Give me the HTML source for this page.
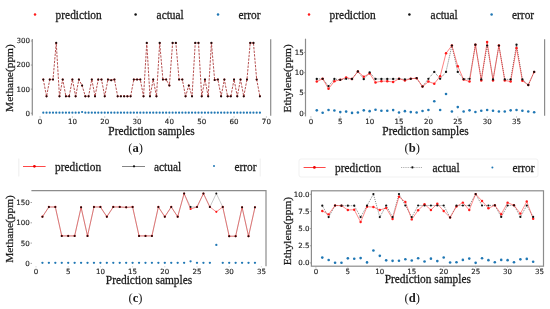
<!DOCTYPE html>
<html><head><meta charset="utf-8"><title>Prediction results</title>
<style>
html,body{margin:0;padding:0;background:#fff;}
body{width:550px;height:309px;overflow:hidden;}
svg{display:block;filter:blur(0.3px);}
</style></head>
<body>
<svg width="550" height="309" viewBox="0 0 550 309">
<rect x="0" y="0" width="550" height="309" fill="#fff"/>
<line x1="32.3" y1="38.9" x2="32.3" y2="115.6" stroke="#8c8c8c" stroke-width="1.2"/>
<line x1="270.7" y1="39.2" x2="270.7" y2="115.7" stroke="#8c8c8c" stroke-width="1.2"/>
<line x1="30.8" y1="113.2" x2="32.3" y2="113.2" stroke="#8c8c8c" stroke-width="0.8"/>
<line x1="30.8" y1="89.13" x2="32.3" y2="89.13" stroke="#8c8c8c" stroke-width="0.8"/>
<line x1="30.8" y1="65.06" x2="32.3" y2="65.06" stroke="#8c8c8c" stroke-width="0.8"/>
<line x1="30.8" y1="40.99" x2="32.3" y2="40.99" stroke="#8c8c8c" stroke-width="0.8"/>
<text x="0" y="0" transform="translate(30,115.6) scale(1,1.0)" font-family="'DejaVu Sans', 'Liberation Sans', sans-serif" font-size="7.1" text-anchor="end" fill="#262626" stroke="#262626" stroke-width="0.15">0</text>
<text x="0" y="0" transform="translate(30,91.53) scale(1,1.0)" font-family="'DejaVu Sans', 'Liberation Sans', sans-serif" font-size="7.1" text-anchor="end" fill="#262626" stroke="#262626" stroke-width="0.15">100</text>
<text x="0" y="0" transform="translate(30,67.46) scale(1,1.0)" font-family="'DejaVu Sans', 'Liberation Sans', sans-serif" font-size="7.1" text-anchor="end" fill="#262626" stroke="#262626" stroke-width="0.15">200</text>
<text x="0" y="0" transform="translate(30,43.39) scale(1,1.0)" font-family="'DejaVu Sans', 'Liberation Sans', sans-serif" font-size="7.1" text-anchor="end" fill="#262626" stroke="#262626" stroke-width="0.15">300</text>
<text x="0" y="0" transform="translate(40.07,123.8) scale(1,1.0)" font-family="'DejaVu Sans', 'Liberation Sans', sans-serif" font-size="7.1" text-anchor="middle" fill="#262626" stroke="#262626" stroke-width="0.15">0</text>
<text x="0" y="0" transform="translate(72.4,123.8) scale(1,1.0)" font-family="'DejaVu Sans', 'Liberation Sans', sans-serif" font-size="7.1" text-anchor="middle" fill="#262626" stroke="#262626" stroke-width="0.15">10</text>
<text x="0" y="0" transform="translate(104.73,123.8) scale(1,1.0)" font-family="'DejaVu Sans', 'Liberation Sans', sans-serif" font-size="7.1" text-anchor="middle" fill="#262626" stroke="#262626" stroke-width="0.15">20</text>
<text x="0" y="0" transform="translate(137.06,123.8) scale(1,1.0)" font-family="'DejaVu Sans', 'Liberation Sans', sans-serif" font-size="7.1" text-anchor="middle" fill="#262626" stroke="#262626" stroke-width="0.15">30</text>
<text x="0" y="0" transform="translate(169.39,123.8) scale(1,1.0)" font-family="'DejaVu Sans', 'Liberation Sans', sans-serif" font-size="7.1" text-anchor="middle" fill="#262626" stroke="#262626" stroke-width="0.15">40</text>
<text x="0" y="0" transform="translate(201.72,123.8) scale(1,1.0)" font-family="'DejaVu Sans', 'Liberation Sans', sans-serif" font-size="7.1" text-anchor="middle" fill="#262626" stroke="#262626" stroke-width="0.15">50</text>
<text x="0" y="0" transform="translate(234.05,123.8) scale(1,1.0)" font-family="'DejaVu Sans', 'Liberation Sans', sans-serif" font-size="7.1" text-anchor="middle" fill="#262626" stroke="#262626" stroke-width="0.15">60</text>
<text x="0" y="0" transform="translate(266.38,123.8) scale(1,1.0)" font-family="'DejaVu Sans', 'Liberation Sans', sans-serif" font-size="7.1" text-anchor="middle" fill="#262626" stroke="#262626" stroke-width="0.15">70</text>
<line x1="40.07" y1="116.2" x2="40.07" y2="117.8" stroke="#aaaaaa" stroke-width="0.7"/>
<line x1="72.4" y1="116.2" x2="72.4" y2="117.8" stroke="#aaaaaa" stroke-width="0.7"/>
<line x1="104.73" y1="116.2" x2="104.73" y2="117.8" stroke="#aaaaaa" stroke-width="0.7"/>
<line x1="137.06" y1="116.2" x2="137.06" y2="117.8" stroke="#aaaaaa" stroke-width="0.7"/>
<line x1="169.39" y1="116.2" x2="169.39" y2="117.8" stroke="#aaaaaa" stroke-width="0.7"/>
<line x1="201.72" y1="116.2" x2="201.72" y2="117.8" stroke="#aaaaaa" stroke-width="0.7"/>
<line x1="234.05" y1="116.2" x2="234.05" y2="117.8" stroke="#aaaaaa" stroke-width="0.7"/>
<line x1="266.38" y1="116.2" x2="266.38" y2="117.8" stroke="#aaaaaa" stroke-width="0.7"/>
<text x="0" y="0" transform="translate(13.2,78.1) rotate(-90)" font-family="'Liberation Serif', serif" font-size="11.4" text-anchor="middle" fill="#1a1a1a" stroke="#1a1a1a" stroke-width="0.25">Methane(ppm)</text>
<text x="0" y="0" transform="translate(151.5,134.5) scale(1,1.1)" font-family="'Liberation Serif', serif" font-size="11.4" text-anchor="middle" fill="#1a1a1a" stroke="#1a1a1a" stroke-width="0.25">Prediction samples</text>
<text x="0" y="0" transform="translate(135.6,152.2) scale(1,1.05)" font-family="'Liberation Serif', serif" font-size="12.6" text-anchor="middle" fill="#1a1a1a">(<tspan font-weight="bold">a</tspan>)</text>
<polyline points="43.3,79.5 46.54,96.35 49.77,79.5 53,79.5 56.23,42.92 59.47,96.35 62.7,79.5 65.93,96.35 69.17,96.35 72.4,79.5 75.63,96.35 78.87,79.5 82.1,85.52 85.33,96.35 88.56,96.35 91.8,79.5 95.03,96.35 98.26,79.5 101.5,79.5 104.73,96.35 107.96,79.5 111.2,80.22 114.43,79.5 117.66,96.35 120.9,96.35 124.13,96.35 127.36,96.35 130.59,96.35 133.83,79.5 137.06,79.5 140.29,79.5 143.53,96.35 146.76,42.92 149.99,96.35 153.22,79.5 156.46,96.35 159.69,42.92 162.92,79.5 166.16,79.5 169.39,85.52 172.62,42.92 175.86,42.92 179.09,79.5 182.32,79.5 185.56,96.35 188.79,85.52 192.02,96.35 195.25,42.92 198.49,42.92 201.72,96.35 204.95,79.5 208.19,96.35 211.42,42.92 214.65,79.98 217.88,79.5 221.12,96.35 224.35,79.5 227.58,96.35 230.82,96.35 234.05,79.5 237.28,96.35 240.52,79.5 243.75,96.35 246.98,79.5 250.22,42.92 253.45,42.92 256.68,79.5 259.91,96.35" fill="none" stroke="#b24848" stroke-width="0.95" stroke-linejoin="round" stroke-dasharray="2.4,1.2"/>
<circle cx="43.3" cy="79.5" r="1.0" fill="#ff1a1a"/>
<circle cx="46.54" cy="96.35" r="1.0" fill="#ff1a1a"/>
<circle cx="49.77" cy="79.5" r="1.0" fill="#ff1a1a"/>
<circle cx="53" cy="79.5" r="1.0" fill="#ff1a1a"/>
<circle cx="56.23" cy="42.92" r="1.0" fill="#ff1a1a"/>
<circle cx="59.47" cy="96.35" r="1.0" fill="#ff1a1a"/>
<circle cx="62.7" cy="79.5" r="1.0" fill="#ff1a1a"/>
<circle cx="65.93" cy="96.35" r="1.0" fill="#ff1a1a"/>
<circle cx="69.17" cy="96.35" r="1.0" fill="#ff1a1a"/>
<circle cx="72.4" cy="79.5" r="1.0" fill="#ff1a1a"/>
<circle cx="75.63" cy="96.35" r="1.0" fill="#ff1a1a"/>
<circle cx="78.87" cy="79.5" r="1.0" fill="#ff1a1a"/>
<circle cx="82.1" cy="85.52" r="1.0" fill="#ff1a1a"/>
<circle cx="85.33" cy="96.35" r="1.0" fill="#ff1a1a"/>
<circle cx="88.56" cy="96.35" r="1.0" fill="#ff1a1a"/>
<circle cx="91.8" cy="79.5" r="1.0" fill="#ff1a1a"/>
<circle cx="95.03" cy="96.35" r="1.0" fill="#ff1a1a"/>
<circle cx="98.26" cy="79.5" r="1.0" fill="#ff1a1a"/>
<circle cx="101.5" cy="79.5" r="1.0" fill="#ff1a1a"/>
<circle cx="104.73" cy="96.35" r="1.0" fill="#ff1a1a"/>
<circle cx="107.96" cy="79.5" r="1.0" fill="#ff1a1a"/>
<circle cx="111.2" cy="80.22" r="1.0" fill="#ff1a1a"/>
<circle cx="114.43" cy="79.5" r="1.0" fill="#ff1a1a"/>
<circle cx="117.66" cy="96.35" r="1.0" fill="#ff1a1a"/>
<circle cx="120.9" cy="96.35" r="1.0" fill="#ff1a1a"/>
<circle cx="124.13" cy="96.35" r="1.0" fill="#ff1a1a"/>
<circle cx="127.36" cy="96.35" r="1.0" fill="#ff1a1a"/>
<circle cx="130.59" cy="96.35" r="1.0" fill="#ff1a1a"/>
<circle cx="133.83" cy="79.5" r="1.0" fill="#ff1a1a"/>
<circle cx="137.06" cy="79.5" r="1.0" fill="#ff1a1a"/>
<circle cx="140.29" cy="79.5" r="1.0" fill="#ff1a1a"/>
<circle cx="143.53" cy="96.35" r="1.0" fill="#ff1a1a"/>
<circle cx="146.76" cy="42.92" r="1.0" fill="#ff1a1a"/>
<circle cx="149.99" cy="96.35" r="1.0" fill="#ff1a1a"/>
<circle cx="153.22" cy="79.5" r="1.0" fill="#ff1a1a"/>
<circle cx="156.46" cy="96.35" r="1.0" fill="#ff1a1a"/>
<circle cx="159.69" cy="42.92" r="1.0" fill="#ff1a1a"/>
<circle cx="162.92" cy="79.5" r="1.0" fill="#ff1a1a"/>
<circle cx="166.16" cy="79.5" r="1.0" fill="#ff1a1a"/>
<circle cx="169.39" cy="85.52" r="1.0" fill="#ff1a1a"/>
<circle cx="172.62" cy="42.92" r="1.0" fill="#ff1a1a"/>
<circle cx="175.86" cy="42.92" r="1.0" fill="#ff1a1a"/>
<circle cx="179.09" cy="79.5" r="1.0" fill="#ff1a1a"/>
<circle cx="182.32" cy="79.5" r="1.0" fill="#ff1a1a"/>
<circle cx="185.56" cy="96.35" r="1.0" fill="#ff1a1a"/>
<circle cx="188.79" cy="85.52" r="1.0" fill="#ff1a1a"/>
<circle cx="192.02" cy="96.35" r="1.0" fill="#ff1a1a"/>
<circle cx="195.25" cy="42.92" r="1.0" fill="#ff1a1a"/>
<circle cx="198.49" cy="42.92" r="1.0" fill="#ff1a1a"/>
<circle cx="201.72" cy="96.35" r="1.0" fill="#ff1a1a"/>
<circle cx="204.95" cy="79.5" r="1.0" fill="#ff1a1a"/>
<circle cx="208.19" cy="96.35" r="1.0" fill="#ff1a1a"/>
<circle cx="211.42" cy="42.92" r="1.0" fill="#ff1a1a"/>
<circle cx="214.65" cy="79.98" r="1.0" fill="#ff1a1a"/>
<circle cx="217.88" cy="79.5" r="1.0" fill="#ff1a1a"/>
<circle cx="221.12" cy="96.35" r="1.0" fill="#ff1a1a"/>
<circle cx="224.35" cy="79.5" r="1.0" fill="#ff1a1a"/>
<circle cx="227.58" cy="96.35" r="1.0" fill="#ff1a1a"/>
<circle cx="230.82" cy="96.35" r="1.0" fill="#ff1a1a"/>
<circle cx="234.05" cy="79.5" r="1.0" fill="#ff1a1a"/>
<circle cx="237.28" cy="96.35" r="1.0" fill="#ff1a1a"/>
<circle cx="240.52" cy="79.5" r="1.0" fill="#ff1a1a"/>
<circle cx="243.75" cy="96.35" r="1.0" fill="#ff1a1a"/>
<circle cx="246.98" cy="79.5" r="1.0" fill="#ff1a1a"/>
<circle cx="250.22" cy="42.92" r="1.0" fill="#ff1a1a"/>
<circle cx="253.45" cy="42.92" r="1.0" fill="#ff1a1a"/>
<circle cx="256.68" cy="79.5" r="1.0" fill="#ff1a1a"/>
<circle cx="259.91" cy="96.35" r="1.0" fill="#ff1a1a"/>
<circle cx="43.3" cy="79.5" r="1.05" fill="#111"/>
<circle cx="46.54" cy="96.35" r="1.05" fill="#111"/>
<circle cx="49.77" cy="79.5" r="1.05" fill="#111"/>
<circle cx="53" cy="79.5" r="1.05" fill="#111"/>
<circle cx="56.23" cy="42.92" r="1.05" fill="#111"/>
<circle cx="59.47" cy="96.35" r="1.05" fill="#111"/>
<circle cx="62.7" cy="79.5" r="1.05" fill="#111"/>
<circle cx="65.93" cy="96.35" r="1.05" fill="#111"/>
<circle cx="69.17" cy="96.35" r="1.05" fill="#111"/>
<circle cx="72.4" cy="79.5" r="1.05" fill="#111"/>
<circle cx="75.63" cy="96.35" r="1.05" fill="#111"/>
<circle cx="78.87" cy="79.5" r="1.05" fill="#111"/>
<circle cx="82.1" cy="85.52" r="1.05" fill="#111"/>
<circle cx="85.33" cy="96.35" r="1.05" fill="#111"/>
<circle cx="88.56" cy="96.35" r="1.05" fill="#111"/>
<circle cx="91.8" cy="79.5" r="1.05" fill="#111"/>
<circle cx="95.03" cy="96.35" r="1.05" fill="#111"/>
<circle cx="98.26" cy="79.5" r="1.05" fill="#111"/>
<circle cx="101.5" cy="79.5" r="1.05" fill="#111"/>
<circle cx="104.73" cy="96.35" r="1.05" fill="#111"/>
<circle cx="107.96" cy="79.5" r="1.05" fill="#111"/>
<circle cx="111.2" cy="80.22" r="1.05" fill="#111"/>
<circle cx="114.43" cy="79.5" r="1.05" fill="#111"/>
<circle cx="117.66" cy="96.35" r="1.05" fill="#111"/>
<circle cx="120.9" cy="96.35" r="1.05" fill="#111"/>
<circle cx="124.13" cy="96.35" r="1.05" fill="#111"/>
<circle cx="127.36" cy="96.35" r="1.05" fill="#111"/>
<circle cx="130.59" cy="96.35" r="1.05" fill="#111"/>
<circle cx="133.83" cy="79.5" r="1.05" fill="#111"/>
<circle cx="137.06" cy="79.5" r="1.05" fill="#111"/>
<circle cx="140.29" cy="79.5" r="1.05" fill="#111"/>
<circle cx="143.53" cy="96.35" r="1.05" fill="#111"/>
<circle cx="146.76" cy="42.92" r="1.05" fill="#111"/>
<circle cx="149.99" cy="96.35" r="1.05" fill="#111"/>
<circle cx="153.22" cy="79.5" r="1.05" fill="#111"/>
<circle cx="156.46" cy="96.35" r="1.05" fill="#111"/>
<circle cx="159.69" cy="42.92" r="1.05" fill="#111"/>
<circle cx="162.92" cy="79.5" r="1.05" fill="#111"/>
<circle cx="166.16" cy="79.5" r="1.05" fill="#111"/>
<circle cx="169.39" cy="85.52" r="1.05" fill="#111"/>
<circle cx="172.62" cy="42.92" r="1.05" fill="#111"/>
<circle cx="175.86" cy="42.92" r="1.05" fill="#111"/>
<circle cx="179.09" cy="79.5" r="1.05" fill="#111"/>
<circle cx="182.32" cy="79.5" r="1.05" fill="#111"/>
<circle cx="185.56" cy="96.35" r="1.05" fill="#111"/>
<circle cx="188.79" cy="85.52" r="1.05" fill="#111"/>
<circle cx="192.02" cy="96.35" r="1.05" fill="#111"/>
<circle cx="195.25" cy="42.92" r="1.05" fill="#111"/>
<circle cx="198.49" cy="42.92" r="1.05" fill="#111"/>
<circle cx="201.72" cy="96.35" r="1.05" fill="#111"/>
<circle cx="204.95" cy="79.5" r="1.05" fill="#111"/>
<circle cx="208.19" cy="96.35" r="1.05" fill="#111"/>
<circle cx="211.42" cy="42.92" r="1.05" fill="#111"/>
<circle cx="214.65" cy="79.98" r="1.05" fill="#111"/>
<circle cx="217.88" cy="79.5" r="1.05" fill="#111"/>
<circle cx="221.12" cy="96.35" r="1.05" fill="#111"/>
<circle cx="224.35" cy="79.5" r="1.05" fill="#111"/>
<circle cx="227.58" cy="96.35" r="1.05" fill="#111"/>
<circle cx="230.82" cy="96.35" r="1.05" fill="#111"/>
<circle cx="234.05" cy="79.5" r="1.05" fill="#111"/>
<circle cx="237.28" cy="96.35" r="1.05" fill="#111"/>
<circle cx="240.52" cy="79.5" r="1.05" fill="#111"/>
<circle cx="243.75" cy="96.35" r="1.05" fill="#111"/>
<circle cx="246.98" cy="79.5" r="1.05" fill="#111"/>
<circle cx="250.22" cy="42.92" r="1.05" fill="#111"/>
<circle cx="253.45" cy="42.92" r="1.05" fill="#111"/>
<circle cx="256.68" cy="79.5" r="1.05" fill="#111"/>
<circle cx="259.91" cy="96.35" r="1.05" fill="#111"/>
<circle cx="43.3" cy="112.72" r="1.1" fill="#1f77b4"/>
<circle cx="46.54" cy="112.72" r="1.1" fill="#1f77b4"/>
<circle cx="49.77" cy="112.72" r="1.1" fill="#1f77b4"/>
<circle cx="53" cy="112.72" r="1.1" fill="#1f77b4"/>
<circle cx="56.23" cy="112.72" r="1.1" fill="#1f77b4"/>
<circle cx="59.47" cy="112.72" r="1.1" fill="#1f77b4"/>
<circle cx="62.7" cy="112.72" r="1.1" fill="#1f77b4"/>
<circle cx="65.93" cy="112.72" r="1.1" fill="#1f77b4"/>
<circle cx="69.17" cy="112.72" r="1.1" fill="#1f77b4"/>
<circle cx="72.4" cy="112.72" r="1.1" fill="#1f77b4"/>
<circle cx="75.63" cy="112.72" r="1.1" fill="#1f77b4"/>
<circle cx="78.87" cy="112.72" r="1.1" fill="#1f77b4"/>
<circle cx="82.1" cy="112" r="1.1" fill="#1f77b4"/>
<circle cx="85.33" cy="112.72" r="1.1" fill="#1f77b4"/>
<circle cx="88.56" cy="112.72" r="1.1" fill="#1f77b4"/>
<circle cx="91.8" cy="112.72" r="1.1" fill="#1f77b4"/>
<circle cx="95.03" cy="112.72" r="1.1" fill="#1f77b4"/>
<circle cx="98.26" cy="112.72" r="1.1" fill="#1f77b4"/>
<circle cx="101.5" cy="112.72" r="1.1" fill="#1f77b4"/>
<circle cx="104.73" cy="112.72" r="1.1" fill="#1f77b4"/>
<circle cx="107.96" cy="112.72" r="1.1" fill="#1f77b4"/>
<circle cx="111.2" cy="112.72" r="1.1" fill="#1f77b4"/>
<circle cx="114.43" cy="112.72" r="1.1" fill="#1f77b4"/>
<circle cx="117.66" cy="112.72" r="1.1" fill="#1f77b4"/>
<circle cx="120.9" cy="112.72" r="1.1" fill="#1f77b4"/>
<circle cx="124.13" cy="112.72" r="1.1" fill="#1f77b4"/>
<circle cx="127.36" cy="112.72" r="1.1" fill="#1f77b4"/>
<circle cx="130.59" cy="112.72" r="1.1" fill="#1f77b4"/>
<circle cx="133.83" cy="112.72" r="1.1" fill="#1f77b4"/>
<circle cx="137.06" cy="112.72" r="1.1" fill="#1f77b4"/>
<circle cx="140.29" cy="112.72" r="1.1" fill="#1f77b4"/>
<circle cx="143.53" cy="112.72" r="1.1" fill="#1f77b4"/>
<circle cx="146.76" cy="112.72" r="1.1" fill="#1f77b4"/>
<circle cx="149.99" cy="112.72" r="1.1" fill="#1f77b4"/>
<circle cx="153.22" cy="112.72" r="1.1" fill="#1f77b4"/>
<circle cx="156.46" cy="112.72" r="1.1" fill="#1f77b4"/>
<circle cx="159.69" cy="112.72" r="1.1" fill="#1f77b4"/>
<circle cx="162.92" cy="112.72" r="1.1" fill="#1f77b4"/>
<circle cx="166.16" cy="112.72" r="1.1" fill="#1f77b4"/>
<circle cx="169.39" cy="112.72" r="1.1" fill="#1f77b4"/>
<circle cx="172.62" cy="112.72" r="1.1" fill="#1f77b4"/>
<circle cx="175.86" cy="112.72" r="1.1" fill="#1f77b4"/>
<circle cx="179.09" cy="112.72" r="1.1" fill="#1f77b4"/>
<circle cx="182.32" cy="112.72" r="1.1" fill="#1f77b4"/>
<circle cx="185.56" cy="112.72" r="1.1" fill="#1f77b4"/>
<circle cx="188.79" cy="112.72" r="1.1" fill="#1f77b4"/>
<circle cx="192.02" cy="112.72" r="1.1" fill="#1f77b4"/>
<circle cx="195.25" cy="112.72" r="1.1" fill="#1f77b4"/>
<circle cx="198.49" cy="112.72" r="1.1" fill="#1f77b4"/>
<circle cx="201.72" cy="112.72" r="1.1" fill="#1f77b4"/>
<circle cx="204.95" cy="112.72" r="1.1" fill="#1f77b4"/>
<circle cx="208.19" cy="112.72" r="1.1" fill="#1f77b4"/>
<circle cx="211.42" cy="112.72" r="1.1" fill="#1f77b4"/>
<circle cx="214.65" cy="112.72" r="1.1" fill="#1f77b4"/>
<circle cx="217.88" cy="112.72" r="1.1" fill="#1f77b4"/>
<circle cx="221.12" cy="112.72" r="1.1" fill="#1f77b4"/>
<circle cx="224.35" cy="112.72" r="1.1" fill="#1f77b4"/>
<circle cx="227.58" cy="112.72" r="1.1" fill="#1f77b4"/>
<circle cx="230.82" cy="112.72" r="1.1" fill="#1f77b4"/>
<circle cx="234.05" cy="112.72" r="1.1" fill="#1f77b4"/>
<circle cx="237.28" cy="112.72" r="1.1" fill="#1f77b4"/>
<circle cx="240.52" cy="112.72" r="1.1" fill="#1f77b4"/>
<circle cx="243.75" cy="112.72" r="1.1" fill="#1f77b4"/>
<circle cx="246.98" cy="112.72" r="1.1" fill="#1f77b4"/>
<circle cx="250.22" cy="112.72" r="1.1" fill="#1f77b4"/>
<circle cx="253.45" cy="112.72" r="1.1" fill="#1f77b4"/>
<circle cx="256.68" cy="112.72" r="1.1" fill="#1f77b4"/>
<circle cx="259.91" cy="112.72" r="1.1" fill="#1f77b4"/>
<circle cx="35" cy="14.4" r="1.25" fill="#ff1a1a"/>
<text x="0" y="0" transform="translate(55.6,18.5) scale(1,1.1)" font-family="'Liberation Serif', serif" font-size="11.4" text-anchor="start" fill="#1a1a1a" stroke="#1a1a1a" stroke-width="0.25">prediction</text>
<circle cx="135.6" cy="14.4" r="1.25" fill="#111"/>
<text x="0" y="0" transform="translate(156.6,18.5) scale(1,1.1)" font-family="'Liberation Serif', serif" font-size="11.4" text-anchor="start" fill="#1a1a1a" stroke="#1a1a1a" stroke-width="0.25">actual</text>
<circle cx="218" cy="14.4" r="1.25" fill="#1f77b4"/>
<text x="0" y="0" transform="translate(238.4,18.5) scale(1,1.1)" font-family="'Liberation Serif', serif" font-size="11.4" text-anchor="start" fill="#1a1a1a" stroke="#1a1a1a" stroke-width="0.25">error</text>
<line x1="305.5" y1="38.7" x2="305.5" y2="116.4" stroke="#8c8c8c" stroke-width="1.2"/>
<line x1="544.6" y1="39.2" x2="544.6" y2="115.7" stroke="#8c8c8c" stroke-width="1.2"/>
<line x1="304" y1="113.2" x2="305.5" y2="113.2" stroke="#8c8c8c" stroke-width="0.8"/>
<line x1="304" y1="92.95" x2="305.5" y2="92.95" stroke="#8c8c8c" stroke-width="0.8"/>
<line x1="304" y1="72.7" x2="305.5" y2="72.7" stroke="#8c8c8c" stroke-width="0.8"/>
<line x1="304" y1="52.45" x2="305.5" y2="52.45" stroke="#8c8c8c" stroke-width="0.8"/>
<text x="0" y="0" transform="translate(303.8,115.7) scale(1,1.0)" font-family="'DejaVu Sans', 'Liberation Sans', sans-serif" font-size="7.1" text-anchor="end" fill="#262626" stroke="#262626" stroke-width="0.15">0</text>
<text x="0" y="0" transform="translate(303.8,95.45) scale(1,1.0)" font-family="'DejaVu Sans', 'Liberation Sans', sans-serif" font-size="7.1" text-anchor="end" fill="#262626" stroke="#262626" stroke-width="0.15">5</text>
<text x="0" y="0" transform="translate(303.8,75.2) scale(1,1.0)" font-family="'DejaVu Sans', 'Liberation Sans', sans-serif" font-size="7.1" text-anchor="end" fill="#262626" stroke="#262626" stroke-width="0.15">10</text>
<text x="0" y="0" transform="translate(303.8,54.95) scale(1,1.0)" font-family="'DejaVu Sans', 'Liberation Sans', sans-serif" font-size="7.1" text-anchor="end" fill="#262626" stroke="#262626" stroke-width="0.15">15</text>
<text x="0" y="0" transform="translate(310.9,123.9) scale(1,1.0)" font-family="'DejaVu Sans', 'Liberation Sans', sans-serif" font-size="7.1" text-anchor="middle" fill="#262626" stroke="#262626" stroke-width="0.15">0</text>
<text x="0" y="0" transform="translate(340.27,123.9) scale(1,1.0)" font-family="'DejaVu Sans', 'Liberation Sans', sans-serif" font-size="7.1" text-anchor="middle" fill="#262626" stroke="#262626" stroke-width="0.15">5</text>
<text x="0" y="0" transform="translate(369.65,123.9) scale(1,1.0)" font-family="'DejaVu Sans', 'Liberation Sans', sans-serif" font-size="7.1" text-anchor="middle" fill="#262626" stroke="#262626" stroke-width="0.15">10</text>
<text x="0" y="0" transform="translate(399.02,123.9) scale(1,1.0)" font-family="'DejaVu Sans', 'Liberation Sans', sans-serif" font-size="7.1" text-anchor="middle" fill="#262626" stroke="#262626" stroke-width="0.15">15</text>
<text x="0" y="0" transform="translate(428.4,123.9) scale(1,1.0)" font-family="'DejaVu Sans', 'Liberation Sans', sans-serif" font-size="7.1" text-anchor="middle" fill="#262626" stroke="#262626" stroke-width="0.15">20</text>
<text x="0" y="0" transform="translate(457.77,123.9) scale(1,1.0)" font-family="'DejaVu Sans', 'Liberation Sans', sans-serif" font-size="7.1" text-anchor="middle" fill="#262626" stroke="#262626" stroke-width="0.15">25</text>
<text x="0" y="0" transform="translate(487.15,123.9) scale(1,1.0)" font-family="'DejaVu Sans', 'Liberation Sans', sans-serif" font-size="7.1" text-anchor="middle" fill="#262626" stroke="#262626" stroke-width="0.15">30</text>
<text x="0" y="0" transform="translate(516.52,123.9) scale(1,1.0)" font-family="'DejaVu Sans', 'Liberation Sans', sans-serif" font-size="7.1" text-anchor="middle" fill="#262626" stroke="#262626" stroke-width="0.15">35</text>
<line x1="310.9" y1="116.2" x2="310.9" y2="117.8" stroke="#aaaaaa" stroke-width="0.7"/>
<line x1="340.27" y1="116.2" x2="340.27" y2="117.8" stroke="#aaaaaa" stroke-width="0.7"/>
<line x1="369.65" y1="116.2" x2="369.65" y2="117.8" stroke="#aaaaaa" stroke-width="0.7"/>
<line x1="399.02" y1="116.2" x2="399.02" y2="117.8" stroke="#aaaaaa" stroke-width="0.7"/>
<line x1="428.4" y1="116.2" x2="428.4" y2="117.8" stroke="#aaaaaa" stroke-width="0.7"/>
<line x1="457.77" y1="116.2" x2="457.77" y2="117.8" stroke="#aaaaaa" stroke-width="0.7"/>
<line x1="487.15" y1="116.2" x2="487.15" y2="117.8" stroke="#aaaaaa" stroke-width="0.7"/>
<line x1="516.52" y1="116.2" x2="516.52" y2="117.8" stroke="#aaaaaa" stroke-width="0.7"/>
<text x="0" y="0" transform="translate(291.2,78.4) rotate(-90)" font-family="'Liberation Serif', serif" font-size="11.4" text-anchor="middle" fill="#1a1a1a" stroke="#1a1a1a" stroke-width="0.25">Ethylene(ppm)</text>
<text x="0" y="0" transform="translate(425.5,135) scale(1,1.1)" font-family="'Liberation Serif', serif" font-size="11.4" text-anchor="middle" fill="#1a1a1a" stroke="#1a1a1a" stroke-width="0.25">Prediction samples</text>
<text x="0" y="0" transform="translate(412.3,152.2) scale(1,1.05)" font-family="'Liberation Serif', serif" font-size="12.6" text-anchor="middle" fill="#1a1a1a">(<tspan font-weight="bold">b</tspan>)</text>
<polyline points="316.77,79.02 322.65,78.78 328.52,86.06 334.4,79.02 340.27,79.79 346.15,78.78 352.02,78.98 357.9,71.48 363.77,79.18 369.65,72.5 375.52,78.98 381.4,78.98 387.27,78.98 393.15,78.98 399.02,78.78 404.9,79.38 410.77,78.78 416.65,78.17 422.52,86.59 428.4,78.78 434.27,71.89 440.15,78.78 446.02,71.89 451.9,45.57 457.77,71.89 463.65,79.18 469.52,78.78 475.4,44.76 481.27,79.38 487.15,45.57 493.02,79.38 498.9,45.57 504.77,79.38 510.65,79.38 516.52,44.76 522.4,79.38 528.27,85.01 534.15,71.89" fill="none" stroke="#222" stroke-width="0.6" stroke-linejoin="round" stroke-dasharray="1,1"/>
<polyline points="316.77,81.61 322.65,78.78 328.52,88.7 334.4,81.2 340.27,79.79 346.15,77.56 352.02,78.98 357.9,71.48 363.77,76.75 369.65,73.51 375.52,82.42 381.4,81.2 387.27,81.2 393.15,82.02 399.02,78.78 404.9,80.4 410.77,78.78 416.65,78.17 422.52,86.59 428.4,81.61 434.27,83.64 440.15,76.34 446.02,53.26 451.9,45.57 457.77,66.22 463.65,79.59 469.52,81.61 475.4,44.76 481.27,80.4 487.15,41.92 493.02,80.4 498.9,45.57 504.77,80.4 510.65,81.61 516.52,48 522.4,80.8 528.27,85.01 534.15,71.89" fill="none" stroke="#ff1a1a" stroke-width="0.55" stroke-linejoin="round"/>
<circle cx="316.77" cy="81.61" r="1.25" fill="#ff1a1a"/>
<circle cx="322.65" cy="78.78" r="1.25" fill="#ff1a1a"/>
<circle cx="328.52" cy="88.7" r="1.25" fill="#ff1a1a"/>
<circle cx="334.4" cy="81.2" r="1.25" fill="#ff1a1a"/>
<circle cx="340.27" cy="79.79" r="1.25" fill="#ff1a1a"/>
<circle cx="346.15" cy="77.56" r="1.25" fill="#ff1a1a"/>
<circle cx="352.02" cy="78.98" r="1.25" fill="#ff1a1a"/>
<circle cx="357.9" cy="71.48" r="1.25" fill="#ff1a1a"/>
<circle cx="363.77" cy="76.75" r="1.25" fill="#ff1a1a"/>
<circle cx="369.65" cy="73.51" r="1.25" fill="#ff1a1a"/>
<circle cx="375.52" cy="82.42" r="1.25" fill="#ff1a1a"/>
<circle cx="381.4" cy="81.2" r="1.25" fill="#ff1a1a"/>
<circle cx="387.27" cy="81.2" r="1.25" fill="#ff1a1a"/>
<circle cx="393.15" cy="82.02" r="1.25" fill="#ff1a1a"/>
<circle cx="399.02" cy="78.78" r="1.25" fill="#ff1a1a"/>
<circle cx="404.9" cy="80.4" r="1.25" fill="#ff1a1a"/>
<circle cx="410.77" cy="78.78" r="1.25" fill="#ff1a1a"/>
<circle cx="416.65" cy="78.17" r="1.25" fill="#ff1a1a"/>
<circle cx="422.52" cy="86.59" r="1.25" fill="#ff1a1a"/>
<circle cx="428.4" cy="81.61" r="1.25" fill="#ff1a1a"/>
<circle cx="434.27" cy="83.64" r="1.25" fill="#ff1a1a"/>
<circle cx="440.15" cy="76.34" r="1.25" fill="#ff1a1a"/>
<circle cx="446.02" cy="53.26" r="1.25" fill="#ff1a1a"/>
<circle cx="451.9" cy="45.57" r="1.25" fill="#ff1a1a"/>
<circle cx="457.77" cy="66.22" r="1.25" fill="#ff1a1a"/>
<circle cx="463.65" cy="79.59" r="1.25" fill="#ff1a1a"/>
<circle cx="469.52" cy="81.61" r="1.25" fill="#ff1a1a"/>
<circle cx="475.4" cy="44.76" r="1.25" fill="#ff1a1a"/>
<circle cx="481.27" cy="80.4" r="1.25" fill="#ff1a1a"/>
<circle cx="487.15" cy="41.92" r="1.25" fill="#ff1a1a"/>
<circle cx="493.02" cy="80.4" r="1.25" fill="#ff1a1a"/>
<circle cx="498.9" cy="45.57" r="1.25" fill="#ff1a1a"/>
<circle cx="504.77" cy="80.4" r="1.25" fill="#ff1a1a"/>
<circle cx="510.65" cy="81.61" r="1.25" fill="#ff1a1a"/>
<circle cx="516.52" cy="48" r="1.25" fill="#ff1a1a"/>
<circle cx="522.4" cy="80.8" r="1.25" fill="#ff1a1a"/>
<circle cx="528.27" cy="85.01" r="1.25" fill="#ff1a1a"/>
<circle cx="534.15" cy="71.89" r="1.25" fill="#ff1a1a"/>
<circle cx="316.77" cy="79.02" r="1.15" fill="#111"/>
<circle cx="322.65" cy="78.78" r="1.15" fill="#111"/>
<circle cx="328.52" cy="86.06" r="1.15" fill="#111"/>
<circle cx="334.4" cy="79.02" r="1.15" fill="#111"/>
<circle cx="340.27" cy="79.79" r="1.15" fill="#111"/>
<circle cx="346.15" cy="78.78" r="1.15" fill="#111"/>
<circle cx="352.02" cy="78.98" r="1.15" fill="#111"/>
<circle cx="357.9" cy="71.48" r="1.15" fill="#111"/>
<circle cx="363.77" cy="79.18" r="1.15" fill="#111"/>
<circle cx="369.65" cy="72.5" r="1.15" fill="#111"/>
<circle cx="375.52" cy="78.98" r="1.15" fill="#111"/>
<circle cx="381.4" cy="78.98" r="1.15" fill="#111"/>
<circle cx="387.27" cy="78.98" r="1.15" fill="#111"/>
<circle cx="393.15" cy="78.98" r="1.15" fill="#111"/>
<circle cx="399.02" cy="78.78" r="1.15" fill="#111"/>
<circle cx="404.9" cy="79.38" r="1.15" fill="#111"/>
<circle cx="410.77" cy="78.78" r="1.15" fill="#111"/>
<circle cx="416.65" cy="78.17" r="1.15" fill="#111"/>
<circle cx="422.52" cy="86.59" r="1.15" fill="#111"/>
<circle cx="428.4" cy="78.78" r="1.15" fill="#111"/>
<circle cx="434.27" cy="71.89" r="1.15" fill="#111"/>
<circle cx="440.15" cy="78.78" r="1.15" fill="#111"/>
<circle cx="446.02" cy="71.89" r="1.15" fill="#111"/>
<circle cx="451.9" cy="45.57" r="1.15" fill="#111"/>
<circle cx="457.77" cy="71.89" r="1.15" fill="#111"/>
<circle cx="463.65" cy="79.18" r="1.15" fill="#111"/>
<circle cx="469.52" cy="78.78" r="1.15" fill="#111"/>
<circle cx="475.4" cy="44.76" r="1.15" fill="#111"/>
<circle cx="481.27" cy="79.38" r="1.15" fill="#111"/>
<circle cx="487.15" cy="45.57" r="1.15" fill="#111"/>
<circle cx="493.02" cy="79.38" r="1.15" fill="#111"/>
<circle cx="498.9" cy="45.57" r="1.15" fill="#111"/>
<circle cx="504.77" cy="79.38" r="1.15" fill="#111"/>
<circle cx="510.65" cy="79.38" r="1.15" fill="#111"/>
<circle cx="516.52" cy="44.76" r="1.15" fill="#111"/>
<circle cx="522.4" cy="79.38" r="1.15" fill="#111"/>
<circle cx="528.27" cy="85.01" r="1.15" fill="#111"/>
<circle cx="534.15" cy="71.89" r="1.15" fill="#111"/>
<circle cx="316.77" cy="110.37" r="1.3" fill="#1f77b4"/>
<circle cx="322.65" cy="112.71" r="1.3" fill="#1f77b4"/>
<circle cx="328.52" cy="109.96" r="1.3" fill="#1f77b4"/>
<circle cx="334.4" cy="110.53" r="1.3" fill="#1f77b4"/>
<circle cx="340.27" cy="112.11" r="1.3" fill="#1f77b4"/>
<circle cx="346.15" cy="111.58" r="1.3" fill="#1f77b4"/>
<circle cx="352.02" cy="112.92" r="1.3" fill="#1f77b4"/>
<circle cx="357.9" cy="112.51" r="1.3" fill="#1f77b4"/>
<circle cx="363.77" cy="110.37" r="1.3" fill="#1f77b4"/>
<circle cx="369.65" cy="111.17" r="1.3" fill="#1f77b4"/>
<circle cx="375.52" cy="109.72" r="1.3" fill="#1f77b4"/>
<circle cx="381.4" cy="110.77" r="1.3" fill="#1f77b4"/>
<circle cx="387.27" cy="110.77" r="1.3" fill="#1f77b4"/>
<circle cx="393.15" cy="110.12" r="1.3" fill="#1f77b4"/>
<circle cx="399.02" cy="112.51" r="1.3" fill="#1f77b4"/>
<circle cx="404.9" cy="111.17" r="1.3" fill="#1f77b4"/>
<circle cx="410.77" cy="112.11" r="1.3" fill="#1f77b4"/>
<circle cx="416.65" cy="112.51" r="1.3" fill="#1f77b4"/>
<circle cx="422.52" cy="111.01" r="1.3" fill="#1f77b4"/>
<circle cx="428.4" cy="109.96" r="1.3" fill="#1f77b4"/>
<circle cx="434.27" cy="101.21" r="1.3" fill="#1f77b4"/>
<circle cx="440.15" cy="109.96" r="1.3" fill="#1f77b4"/>
<circle cx="446.02" cy="94" r="1.3" fill="#1f77b4"/>
<circle cx="451.9" cy="111.5" r="1.3" fill="#1f77b4"/>
<circle cx="457.77" cy="107.12" r="1.3" fill="#1f77b4"/>
<circle cx="463.65" cy="111.5" r="1.3" fill="#1f77b4"/>
<circle cx="469.52" cy="110.37" r="1.3" fill="#1f77b4"/>
<circle cx="475.4" cy="111.98" r="1.3" fill="#1f77b4"/>
<circle cx="481.27" cy="110.77" r="1.3" fill="#1f77b4"/>
<circle cx="487.15" cy="109.96" r="1.3" fill="#1f77b4"/>
<circle cx="493.02" cy="110.77" r="1.3" fill="#1f77b4"/>
<circle cx="498.9" cy="111.5" r="1.3" fill="#1f77b4"/>
<circle cx="504.77" cy="111.5" r="1.3" fill="#1f77b4"/>
<circle cx="510.65" cy="110.37" r="1.3" fill="#1f77b4"/>
<circle cx="516.52" cy="109.96" r="1.3" fill="#1f77b4"/>
<circle cx="522.4" cy="110.77" r="1.3" fill="#1f77b4"/>
<circle cx="528.27" cy="111.5" r="1.3" fill="#1f77b4"/>
<circle cx="534.15" cy="112.31" r="1.3" fill="#1f77b4"/>
<circle cx="309" cy="14.4" r="1.25" fill="#ff1a1a"/>
<text x="0" y="0" transform="translate(329.6,18.5) scale(1,1.1)" font-family="'Liberation Serif', serif" font-size="11.4" text-anchor="start" fill="#1a1a1a" stroke="#1a1a1a" stroke-width="0.25">prediction</text>
<circle cx="409.4" cy="14.4" r="1.25" fill="#111"/>
<text x="0" y="0" transform="translate(430.6,18.5) scale(1,1.1)" font-family="'Liberation Serif', serif" font-size="11.4" text-anchor="start" fill="#1a1a1a" stroke="#1a1a1a" stroke-width="0.25">actual</text>
<circle cx="491.6" cy="14.4" r="1.25" fill="#1f77b4"/>
<text x="0" y="0" transform="translate(512,18.5) scale(1,1.1)" font-family="'Liberation Serif', serif" font-size="11.4" text-anchor="start" fill="#1a1a1a" stroke="#1a1a1a" stroke-width="0.25">error</text>
<line x1="31.4" y1="190.6" x2="266" y2="190.6" stroke="#8c8c8c" stroke-width="1.2"/>
<line x1="266" y1="190" x2="266" y2="266.2" stroke="#8c8c8c" stroke-width="1.2"/>
<line x1="30.6" y1="263.4" x2="32" y2="263.4" stroke="#8c8c8c" stroke-width="0.8"/>
<line x1="30.6" y1="243.1" x2="32" y2="243.1" stroke="#8c8c8c" stroke-width="0.8"/>
<line x1="30.6" y1="222.8" x2="32" y2="222.8" stroke="#8c8c8c" stroke-width="0.8"/>
<line x1="30.6" y1="202.5" x2="32" y2="202.5" stroke="#8c8c8c" stroke-width="0.8"/>
<text x="0" y="0" transform="translate(29.8,265.9) scale(1,1.0)" font-family="'DejaVu Sans', 'Liberation Sans', sans-serif" font-size="7.1" text-anchor="end" fill="#262626" stroke="#262626" stroke-width="0.15">0</text>
<text x="0" y="0" transform="translate(29.8,245.6) scale(1,1.0)" font-family="'DejaVu Sans', 'Liberation Sans', sans-serif" font-size="7.1" text-anchor="end" fill="#262626" stroke="#262626" stroke-width="0.15">50</text>
<text x="0" y="0" transform="translate(29.8,225.3) scale(1,1.0)" font-family="'DejaVu Sans', 'Liberation Sans', sans-serif" font-size="7.1" text-anchor="end" fill="#262626" stroke="#262626" stroke-width="0.15">100</text>
<text x="0" y="0" transform="translate(29.8,205) scale(1,1.0)" font-family="'DejaVu Sans', 'Liberation Sans', sans-serif" font-size="7.1" text-anchor="end" fill="#262626" stroke="#262626" stroke-width="0.15">150</text>
<text x="0" y="0" transform="translate(36,273.8) scale(1,1.0)" font-family="'DejaVu Sans', 'Liberation Sans', sans-serif" font-size="7.1" text-anchor="middle" fill="#262626" stroke="#262626" stroke-width="0.15">0</text>
<text x="0" y="0" transform="translate(68.2,273.8) scale(1,1.0)" font-family="'DejaVu Sans', 'Liberation Sans', sans-serif" font-size="7.1" text-anchor="middle" fill="#262626" stroke="#262626" stroke-width="0.15">5</text>
<text x="0" y="0" transform="translate(100.4,273.8) scale(1,1.0)" font-family="'DejaVu Sans', 'Liberation Sans', sans-serif" font-size="7.1" text-anchor="middle" fill="#262626" stroke="#262626" stroke-width="0.15">10</text>
<text x="0" y="0" transform="translate(132.6,273.8) scale(1,1.0)" font-family="'DejaVu Sans', 'Liberation Sans', sans-serif" font-size="7.1" text-anchor="middle" fill="#262626" stroke="#262626" stroke-width="0.15">15</text>
<text x="0" y="0" transform="translate(164.8,273.8) scale(1,1.0)" font-family="'DejaVu Sans', 'Liberation Sans', sans-serif" font-size="7.1" text-anchor="middle" fill="#262626" stroke="#262626" stroke-width="0.15">20</text>
<text x="0" y="0" transform="translate(197,273.8) scale(1,1.0)" font-family="'DejaVu Sans', 'Liberation Sans', sans-serif" font-size="7.1" text-anchor="middle" fill="#262626" stroke="#262626" stroke-width="0.15">25</text>
<text x="0" y="0" transform="translate(229.2,273.8) scale(1,1.0)" font-family="'DejaVu Sans', 'Liberation Sans', sans-serif" font-size="7.1" text-anchor="middle" fill="#262626" stroke="#262626" stroke-width="0.15">30</text>
<text x="0" y="0" transform="translate(261.4,273.8) scale(1,1.0)" font-family="'DejaVu Sans', 'Liberation Sans', sans-serif" font-size="7.1" text-anchor="middle" fill="#262626" stroke="#262626" stroke-width="0.15">35</text>
<line x1="36" y1="266" x2="36" y2="267.4" stroke="#c8c8c8" stroke-width="0.7"/>
<line x1="68.2" y1="266" x2="68.2" y2="267.4" stroke="#c8c8c8" stroke-width="0.7"/>
<line x1="100.4" y1="266" x2="100.4" y2="267.4" stroke="#c8c8c8" stroke-width="0.7"/>
<line x1="132.6" y1="266" x2="132.6" y2="267.4" stroke="#c8c8c8" stroke-width="0.7"/>
<line x1="164.8" y1="266" x2="164.8" y2="267.4" stroke="#c8c8c8" stroke-width="0.7"/>
<line x1="197" y1="266" x2="197" y2="267.4" stroke="#c8c8c8" stroke-width="0.7"/>
<line x1="229.2" y1="266" x2="229.2" y2="267.4" stroke="#c8c8c8" stroke-width="0.7"/>
<line x1="261.4" y1="266" x2="261.4" y2="267.4" stroke="#c8c8c8" stroke-width="0.7"/>
<text x="0" y="0" transform="translate(13.2,229) rotate(-90)" font-family="'Liberation Serif', serif" font-size="11.4" text-anchor="middle" fill="#1a1a1a" stroke="#1a1a1a" stroke-width="0.25">Methane(ppm)</text>
<text x="0" y="0" transform="translate(149,284.2) scale(1,1.1)" font-family="'Liberation Serif', serif" font-size="11.4" text-anchor="middle" fill="#1a1a1a" stroke="#1a1a1a" stroke-width="0.25">Prediction samples</text>
<text x="0" y="0" transform="translate(135.5,302.2) scale(1,1.05)" font-family="'Liberation Serif', serif" font-size="12.6" text-anchor="middle" fill="#1a1a1a">(<tspan font-weight="bold">c</tspan>)</text>
<polyline points="42.44,216.71 48.88,206.97 55.32,206.97 61.76,235.91 68.2,235.91 74.64,235.91 81.08,207.37 87.52,235.91 93.96,206.97 100.4,206.97 106.84,216.71 113.28,206.97 119.72,206.97 126.16,207.37 132.6,206.97 139.04,235.91 145.48,235.91 151.92,235.91 158.36,206.97 164.8,216.71 171.24,206.97 177.68,216.71 184.12,193.57 190.56,206.97 197,206.97 203.44,193.57 209.88,206.97 216.32,193.57 222.76,206.97 229.2,236.2 235.64,236.2 242.08,207.37 248.52,236.2 254.96,207.37" fill="none" stroke="#222" stroke-width="0.45" stroke-linejoin="round" stroke-opacity="0.55"/>
<polyline points="42.44,216.71 48.88,206.97 55.32,206.97 61.76,235.91 68.2,235.91 74.64,235.91 81.08,207.37 87.52,235.91 93.96,206.97 100.4,206.97 106.84,216.71 113.28,206.97 119.72,206.97 126.16,207.37 132.6,206.97 139.04,235.91 145.48,235.91 151.92,235.91 158.36,206.97 164.8,216.71 171.24,206.97 177.68,216.71 184.12,193.57 190.56,209 197,206.97 203.44,193.57 209.88,206.97 216.32,211.84 222.76,206.97 229.2,236.2 235.64,236.2 242.08,207.37 248.52,236.2 254.96,207.37" fill="none" stroke="#f03030" stroke-width="0.55" stroke-linejoin="round"/>
<circle cx="42.44" cy="216.71" r="1.1" fill="#ff1a1a"/>
<circle cx="48.88" cy="206.97" r="1.1" fill="#ff1a1a"/>
<circle cx="55.32" cy="206.97" r="1.1" fill="#ff1a1a"/>
<circle cx="61.76" cy="235.91" r="1.1" fill="#ff1a1a"/>
<circle cx="68.2" cy="235.91" r="1.1" fill="#ff1a1a"/>
<circle cx="74.64" cy="235.91" r="1.1" fill="#ff1a1a"/>
<circle cx="81.08" cy="207.37" r="1.1" fill="#ff1a1a"/>
<circle cx="87.52" cy="235.91" r="1.1" fill="#ff1a1a"/>
<circle cx="93.96" cy="206.97" r="1.1" fill="#ff1a1a"/>
<circle cx="100.4" cy="206.97" r="1.1" fill="#ff1a1a"/>
<circle cx="106.84" cy="216.71" r="1.1" fill="#ff1a1a"/>
<circle cx="113.28" cy="206.97" r="1.1" fill="#ff1a1a"/>
<circle cx="119.72" cy="206.97" r="1.1" fill="#ff1a1a"/>
<circle cx="126.16" cy="207.37" r="1.1" fill="#ff1a1a"/>
<circle cx="132.6" cy="206.97" r="1.1" fill="#ff1a1a"/>
<circle cx="139.04" cy="235.91" r="1.1" fill="#ff1a1a"/>
<circle cx="145.48" cy="235.91" r="1.1" fill="#ff1a1a"/>
<circle cx="151.92" cy="235.91" r="1.1" fill="#ff1a1a"/>
<circle cx="158.36" cy="206.97" r="1.1" fill="#ff1a1a"/>
<circle cx="164.8" cy="216.71" r="1.1" fill="#ff1a1a"/>
<circle cx="171.24" cy="206.97" r="1.1" fill="#ff1a1a"/>
<circle cx="177.68" cy="216.71" r="1.1" fill="#ff1a1a"/>
<circle cx="184.12" cy="193.57" r="1.1" fill="#ff1a1a"/>
<circle cx="190.56" cy="209" r="1.1" fill="#ff1a1a"/>
<circle cx="197" cy="206.97" r="1.1" fill="#ff1a1a"/>
<circle cx="203.44" cy="193.57" r="1.1" fill="#ff1a1a"/>
<circle cx="209.88" cy="206.97" r="1.1" fill="#ff1a1a"/>
<circle cx="216.32" cy="211.84" r="1.1" fill="#ff1a1a"/>
<circle cx="222.76" cy="206.97" r="1.1" fill="#ff1a1a"/>
<circle cx="229.2" cy="236.2" r="1.1" fill="#ff1a1a"/>
<circle cx="235.64" cy="236.2" r="1.1" fill="#ff1a1a"/>
<circle cx="242.08" cy="207.37" r="1.1" fill="#ff1a1a"/>
<circle cx="248.52" cy="236.2" r="1.1" fill="#ff1a1a"/>
<circle cx="254.96" cy="207.37" r="1.1" fill="#ff1a1a"/>
<circle cx="42.44" cy="216.71" r="1.0" fill="#111"/>
<circle cx="48.88" cy="206.97" r="1.0" fill="#111"/>
<circle cx="55.32" cy="206.97" r="1.0" fill="#111"/>
<circle cx="61.76" cy="235.91" r="1.0" fill="#111"/>
<circle cx="68.2" cy="235.91" r="1.0" fill="#111"/>
<circle cx="74.64" cy="235.91" r="1.0" fill="#111"/>
<circle cx="81.08" cy="207.37" r="1.0" fill="#111"/>
<circle cx="87.52" cy="235.91" r="1.0" fill="#111"/>
<circle cx="93.96" cy="206.97" r="1.0" fill="#111"/>
<circle cx="100.4" cy="206.97" r="1.0" fill="#111"/>
<circle cx="106.84" cy="216.71" r="1.0" fill="#111"/>
<circle cx="113.28" cy="206.97" r="1.0" fill="#111"/>
<circle cx="119.72" cy="206.97" r="1.0" fill="#111"/>
<circle cx="126.16" cy="207.37" r="1.0" fill="#111"/>
<circle cx="132.6" cy="206.97" r="1.0" fill="#111"/>
<circle cx="139.04" cy="235.91" r="1.0" fill="#111"/>
<circle cx="145.48" cy="235.91" r="1.0" fill="#111"/>
<circle cx="151.92" cy="235.91" r="1.0" fill="#111"/>
<circle cx="158.36" cy="206.97" r="1.0" fill="#111"/>
<circle cx="164.8" cy="216.71" r="1.0" fill="#111"/>
<circle cx="171.24" cy="206.97" r="1.0" fill="#111"/>
<circle cx="177.68" cy="216.71" r="1.0" fill="#111"/>
<circle cx="184.12" cy="193.57" r="1.0" fill="#111"/>
<circle cx="190.56" cy="206.97" r="1.0" fill="#111"/>
<circle cx="197" cy="206.97" r="1.0" fill="#111"/>
<circle cx="203.44" cy="193.57" r="1.0" fill="#111"/>
<circle cx="209.88" cy="206.97" r="1.0" fill="#111"/>
<circle cx="216.32" cy="193.57" r="1.0" fill="#111"/>
<circle cx="222.76" cy="206.97" r="1.0" fill="#111"/>
<circle cx="229.2" cy="236.2" r="1.0" fill="#111"/>
<circle cx="235.64" cy="236.2" r="1.0" fill="#111"/>
<circle cx="242.08" cy="207.37" r="1.0" fill="#111"/>
<circle cx="248.52" cy="236.2" r="1.0" fill="#111"/>
<circle cx="254.96" cy="207.37" r="1.0" fill="#111"/>
<circle cx="42.44" cy="262.79" r="1.15" fill="#1f77b4"/>
<circle cx="48.88" cy="262.79" r="1.15" fill="#1f77b4"/>
<circle cx="55.32" cy="262.79" r="1.15" fill="#1f77b4"/>
<circle cx="61.76" cy="262.79" r="1.15" fill="#1f77b4"/>
<circle cx="68.2" cy="262.79" r="1.15" fill="#1f77b4"/>
<circle cx="74.64" cy="262.79" r="1.15" fill="#1f77b4"/>
<circle cx="81.08" cy="262.79" r="1.15" fill="#1f77b4"/>
<circle cx="87.52" cy="262.79" r="1.15" fill="#1f77b4"/>
<circle cx="93.96" cy="262.79" r="1.15" fill="#1f77b4"/>
<circle cx="100.4" cy="262.79" r="1.15" fill="#1f77b4"/>
<circle cx="106.84" cy="262.79" r="1.15" fill="#1f77b4"/>
<circle cx="113.28" cy="262.79" r="1.15" fill="#1f77b4"/>
<circle cx="119.72" cy="262.79" r="1.15" fill="#1f77b4"/>
<circle cx="126.16" cy="262.79" r="1.15" fill="#1f77b4"/>
<circle cx="132.6" cy="262.79" r="1.15" fill="#1f77b4"/>
<circle cx="139.04" cy="262.79" r="1.15" fill="#1f77b4"/>
<circle cx="145.48" cy="262.79" r="1.15" fill="#1f77b4"/>
<circle cx="151.92" cy="262.79" r="1.15" fill="#1f77b4"/>
<circle cx="158.36" cy="262.79" r="1.15" fill="#1f77b4"/>
<circle cx="164.8" cy="262.79" r="1.15" fill="#1f77b4"/>
<circle cx="171.24" cy="262.79" r="1.15" fill="#1f77b4"/>
<circle cx="177.68" cy="262.79" r="1.15" fill="#1f77b4"/>
<circle cx="184.12" cy="262.79" r="1.15" fill="#1f77b4"/>
<circle cx="190.56" cy="261.37" r="1.15" fill="#1f77b4"/>
<circle cx="197" cy="262.79" r="1.15" fill="#1f77b4"/>
<circle cx="203.44" cy="262.79" r="1.15" fill="#1f77b4"/>
<circle cx="209.88" cy="262.79" r="1.15" fill="#1f77b4"/>
<circle cx="216.32" cy="244.89" r="1.15" fill="#1f77b4"/>
<circle cx="222.76" cy="262.79" r="1.15" fill="#1f77b4"/>
<circle cx="229.2" cy="262.79" r="1.15" fill="#1f77b4"/>
<circle cx="235.64" cy="262.79" r="1.15" fill="#1f77b4"/>
<circle cx="242.08" cy="262.79" r="1.15" fill="#1f77b4"/>
<circle cx="248.52" cy="262.79" r="1.15" fill="#1f77b4"/>
<circle cx="254.96" cy="262.79" r="1.15" fill="#1f77b4"/>
<line x1="18.8" y1="158.5" x2="18.8" y2="176.5" stroke="#e9e9e9" stroke-width="0.8"/>
<line x1="260.2" y1="158.5" x2="260.2" y2="176.5" stroke="#ececec" stroke-width="0.8"/>
<line x1="23" y1="166.5" x2="45.6" y2="166.5" stroke="#ff1a1a" stroke-width="0.8"/>
<circle cx="34.4" cy="166.3" r="1.35" fill="#ee0000"/>
<text x="0" y="0" transform="translate(55,170.8) scale(1,1.1)" font-family="'Liberation Serif', serif" font-size="11.4" text-anchor="start" fill="#1a1a1a" stroke="#1a1a1a" stroke-width="0.25">prediction</text>
<line x1="122" y1="166.5" x2="145" y2="166.5" stroke="#333" stroke-width="0.6"/>
<circle cx="134" cy="166.3" r="1.15" fill="#111"/>
<text x="0" y="0" transform="translate(154,170.8) scale(1,1.1)" font-family="'Liberation Serif', serif" font-size="11.4" text-anchor="start" fill="#1a1a1a" stroke="#1a1a1a" stroke-width="0.25">actual</text>
<circle cx="214" cy="166" r="1.0" fill="#1f77b4"/>
<text x="0" y="0" transform="translate(234.4,170.8) scale(1,1.1)" font-family="'Liberation Serif', serif" font-size="11.4" text-anchor="start" fill="#1a1a1a" stroke="#1a1a1a" stroke-width="0.25">error</text>
<rect x="311.4" y="190.8" width="232.1" height="75.4" fill="none" stroke="#8c8c8c" stroke-width="1.2"/>
<line x1="309.9" y1="262.9" x2="311.4" y2="262.9" stroke="#8c8c8c" stroke-width="0.8"/>
<line x1="309.9" y1="245.75" x2="311.4" y2="245.75" stroke="#8c8c8c" stroke-width="0.8"/>
<line x1="309.9" y1="228.6" x2="311.4" y2="228.6" stroke="#8c8c8c" stroke-width="0.8"/>
<line x1="309.9" y1="211.45" x2="311.4" y2="211.45" stroke="#8c8c8c" stroke-width="0.8"/>
<line x1="309.9" y1="194.3" x2="311.4" y2="194.3" stroke="#8c8c8c" stroke-width="0.8"/>
<text x="0" y="0" transform="translate(309.6,265.4) scale(1,1.0)" font-family="'DejaVu Sans', 'Liberation Sans', sans-serif" font-size="7.1" text-anchor="end" fill="#262626" stroke="#262626" stroke-width="0.15">0.0</text>
<text x="0" y="0" transform="translate(309.6,248.25) scale(1,1.0)" font-family="'DejaVu Sans', 'Liberation Sans', sans-serif" font-size="7.1" text-anchor="end" fill="#262626" stroke="#262626" stroke-width="0.15">2.5</text>
<text x="0" y="0" transform="translate(309.6,231.1) scale(1,1.0)" font-family="'DejaVu Sans', 'Liberation Sans', sans-serif" font-size="7.1" text-anchor="end" fill="#262626" stroke="#262626" stroke-width="0.15">5.0</text>
<text x="0" y="0" transform="translate(309.6,213.95) scale(1,1.0)" font-family="'DejaVu Sans', 'Liberation Sans', sans-serif" font-size="7.1" text-anchor="end" fill="#262626" stroke="#262626" stroke-width="0.15">7.5</text>
<text x="0" y="0" transform="translate(309.6,196.8) scale(1,1.0)" font-family="'DejaVu Sans', 'Liberation Sans', sans-serif" font-size="7.1" text-anchor="end" fill="#262626" stroke="#262626" stroke-width="0.15">10.0</text>
<text x="0" y="0" transform="translate(315.9,273.6) scale(1,1.0)" font-family="'DejaVu Sans', 'Liberation Sans', sans-serif" font-size="7.1" text-anchor="middle" fill="#262626" stroke="#262626" stroke-width="0.15">0</text>
<text x="0" y="0" transform="translate(347.85,273.6) scale(1,1.0)" font-family="'DejaVu Sans', 'Liberation Sans', sans-serif" font-size="7.1" text-anchor="middle" fill="#262626" stroke="#262626" stroke-width="0.15">5</text>
<text x="0" y="0" transform="translate(379.8,273.6) scale(1,1.0)" font-family="'DejaVu Sans', 'Liberation Sans', sans-serif" font-size="7.1" text-anchor="middle" fill="#262626" stroke="#262626" stroke-width="0.15">10</text>
<text x="0" y="0" transform="translate(411.75,273.6) scale(1,1.0)" font-family="'DejaVu Sans', 'Liberation Sans', sans-serif" font-size="7.1" text-anchor="middle" fill="#262626" stroke="#262626" stroke-width="0.15">15</text>
<text x="0" y="0" transform="translate(443.7,273.6) scale(1,1.0)" font-family="'DejaVu Sans', 'Liberation Sans', sans-serif" font-size="7.1" text-anchor="middle" fill="#262626" stroke="#262626" stroke-width="0.15">20</text>
<text x="0" y="0" transform="translate(475.65,273.6) scale(1,1.0)" font-family="'DejaVu Sans', 'Liberation Sans', sans-serif" font-size="7.1" text-anchor="middle" fill="#262626" stroke="#262626" stroke-width="0.15">25</text>
<text x="0" y="0" transform="translate(507.6,273.6) scale(1,1.0)" font-family="'DejaVu Sans', 'Liberation Sans', sans-serif" font-size="7.1" text-anchor="middle" fill="#262626" stroke="#262626" stroke-width="0.15">30</text>
<text x="0" y="0" transform="translate(539.55,273.6) scale(1,1.0)" font-family="'DejaVu Sans', 'Liberation Sans', sans-serif" font-size="7.1" text-anchor="middle" fill="#262626" stroke="#262626" stroke-width="0.15">35</text>
<line x1="315.9" y1="266.2" x2="315.9" y2="267.6" stroke="#999999" stroke-width="0.7"/>
<line x1="347.85" y1="266.2" x2="347.85" y2="267.6" stroke="#999999" stroke-width="0.7"/>
<line x1="379.8" y1="266.2" x2="379.8" y2="267.6" stroke="#999999" stroke-width="0.7"/>
<line x1="411.75" y1="266.2" x2="411.75" y2="267.6" stroke="#999999" stroke-width="0.7"/>
<line x1="443.7" y1="266.2" x2="443.7" y2="267.6" stroke="#999999" stroke-width="0.7"/>
<line x1="475.65" y1="266.2" x2="475.65" y2="267.6" stroke="#999999" stroke-width="0.7"/>
<line x1="507.6" y1="266.2" x2="507.6" y2="267.6" stroke="#999999" stroke-width="0.7"/>
<line x1="539.55" y1="266.2" x2="539.55" y2="267.6" stroke="#999999" stroke-width="0.7"/>
<text x="0" y="0" transform="translate(291.2,231) rotate(-90)" font-family="'Liberation Serif', serif" font-size="11.4" text-anchor="middle" fill="#1a1a1a" stroke="#1a1a1a" stroke-width="0.25">Ethylene(ppm)</text>
<text x="0" y="0" transform="translate(427.8,283.4) scale(1,1.1)" font-family="'Liberation Serif', serif" font-size="11.4" text-anchor="middle" fill="#1a1a1a" stroke="#1a1a1a" stroke-width="0.25">Prediction samples</text>
<text x="0" y="0" transform="translate(412.3,302.2) scale(1,1.05)" font-family="'Liberation Serif', serif" font-size="12.6" text-anchor="middle" fill="#1a1a1a">(<tspan font-weight="bold">d</tspan>)</text>
<polyline points="322.29,205.69 328.68,217.08 335.07,205.48 341.46,205.69 347.85,205.69 354.24,205.69 360.63,217.08 367.02,205.69 373.41,194.09 379.8,217.08 386.19,205.48 392.58,217.08 398.97,194.09 405.36,205.48 411.75,217.08 418.14,205.48 424.53,205.48 430.92,205.48 437.31,205.48 443.7,205.48 450.09,217.49 456.48,205.69 462.87,205.48 469.26,205.48 475.65,194.09 482.04,205.48 488.43,205.48 494.82,205.28 501.21,216.94 507.6,205.48 513.99,205.28 520.38,216.94 526.77,205.48 533.16,216.94" fill="none" stroke="#333" stroke-width="0.6" stroke-linejoin="round" stroke-dasharray="1,1"/>
<polyline points="322.29,210.97 328.68,214.33 335.07,205.48 341.46,205.69 347.85,210.01 354.24,209.73 360.63,222.01 367.02,206.79 373.41,206.99 379.8,210.01 386.19,208.02 392.58,219 398.97,196.77 405.36,201.98 411.75,219.41 418.14,210.28 424.53,204.18 430.92,210.01 437.31,203.77 443.7,210.97 450.09,217.49 456.48,206.51 462.87,202.6 469.26,210.01 475.65,194.09 482.04,201.02 488.43,208.23 494.82,205.28 501.21,214.19 507.6,202.67 513.99,205.28 520.38,213.58 526.77,201.57 533.16,218.72" fill="none" stroke="#ff1a1a" stroke-width="0.5" stroke-linejoin="round"/>
<circle cx="322.29" cy="210.97" r="1.2" fill="#ff1a1a"/>
<circle cx="328.68" cy="214.33" r="1.2" fill="#ff1a1a"/>
<circle cx="335.07" cy="205.48" r="1.2" fill="#ff1a1a"/>
<circle cx="341.46" cy="205.69" r="1.2" fill="#ff1a1a"/>
<circle cx="347.85" cy="210.01" r="1.2" fill="#ff1a1a"/>
<circle cx="354.24" cy="209.73" r="1.2" fill="#ff1a1a"/>
<circle cx="360.63" cy="222.01" r="1.2" fill="#ff1a1a"/>
<circle cx="367.02" cy="206.79" r="1.2" fill="#ff1a1a"/>
<circle cx="373.41" cy="206.99" r="1.2" fill="#ff1a1a"/>
<circle cx="379.8" cy="210.01" r="1.2" fill="#ff1a1a"/>
<circle cx="386.19" cy="208.02" r="1.2" fill="#ff1a1a"/>
<circle cx="392.58" cy="219" r="1.2" fill="#ff1a1a"/>
<circle cx="398.97" cy="196.77" r="1.2" fill="#ff1a1a"/>
<circle cx="405.36" cy="201.98" r="1.2" fill="#ff1a1a"/>
<circle cx="411.75" cy="219.41" r="1.2" fill="#ff1a1a"/>
<circle cx="418.14" cy="210.28" r="1.2" fill="#ff1a1a"/>
<circle cx="424.53" cy="204.18" r="1.2" fill="#ff1a1a"/>
<circle cx="430.92" cy="210.01" r="1.2" fill="#ff1a1a"/>
<circle cx="437.31" cy="203.77" r="1.2" fill="#ff1a1a"/>
<circle cx="443.7" cy="210.97" r="1.2" fill="#ff1a1a"/>
<circle cx="450.09" cy="217.49" r="1.2" fill="#ff1a1a"/>
<circle cx="456.48" cy="206.51" r="1.2" fill="#ff1a1a"/>
<circle cx="462.87" cy="202.6" r="1.2" fill="#ff1a1a"/>
<circle cx="469.26" cy="210.01" r="1.2" fill="#ff1a1a"/>
<circle cx="475.65" cy="194.09" r="1.2" fill="#ff1a1a"/>
<circle cx="482.04" cy="201.02" r="1.2" fill="#ff1a1a"/>
<circle cx="488.43" cy="208.23" r="1.2" fill="#ff1a1a"/>
<circle cx="494.82" cy="205.28" r="1.2" fill="#ff1a1a"/>
<circle cx="501.21" cy="214.19" r="1.2" fill="#ff1a1a"/>
<circle cx="507.6" cy="202.67" r="1.2" fill="#ff1a1a"/>
<circle cx="513.99" cy="205.28" r="1.2" fill="#ff1a1a"/>
<circle cx="520.38" cy="213.58" r="1.2" fill="#ff1a1a"/>
<circle cx="526.77" cy="201.57" r="1.2" fill="#ff1a1a"/>
<circle cx="533.16" cy="218.72" r="1.2" fill="#ff1a1a"/>
<circle cx="322.29" cy="205.69" r="1.1" fill="#111"/>
<circle cx="328.68" cy="217.08" r="1.1" fill="#111"/>
<circle cx="335.07" cy="205.48" r="1.1" fill="#111"/>
<circle cx="341.46" cy="205.69" r="1.1" fill="#111"/>
<circle cx="347.85" cy="205.69" r="1.1" fill="#111"/>
<circle cx="354.24" cy="205.69" r="1.1" fill="#111"/>
<circle cx="360.63" cy="217.08" r="1.1" fill="#111"/>
<circle cx="367.02" cy="205.69" r="1.1" fill="#111"/>
<circle cx="373.41" cy="194.09" r="1.1" fill="#111"/>
<circle cx="379.8" cy="217.08" r="1.1" fill="#111"/>
<circle cx="386.19" cy="205.48" r="1.1" fill="#111"/>
<circle cx="392.58" cy="217.08" r="1.1" fill="#111"/>
<circle cx="398.97" cy="194.09" r="1.1" fill="#111"/>
<circle cx="405.36" cy="205.48" r="1.1" fill="#111"/>
<circle cx="411.75" cy="217.08" r="1.1" fill="#111"/>
<circle cx="418.14" cy="205.48" r="1.1" fill="#111"/>
<circle cx="424.53" cy="205.48" r="1.1" fill="#111"/>
<circle cx="430.92" cy="205.48" r="1.1" fill="#111"/>
<circle cx="437.31" cy="205.48" r="1.1" fill="#111"/>
<circle cx="443.7" cy="205.48" r="1.1" fill="#111"/>
<circle cx="450.09" cy="217.49" r="1.1" fill="#111"/>
<circle cx="456.48" cy="205.69" r="1.1" fill="#111"/>
<circle cx="462.87" cy="205.48" r="1.1" fill="#111"/>
<circle cx="469.26" cy="205.48" r="1.1" fill="#111"/>
<circle cx="475.65" cy="194.09" r="1.1" fill="#111"/>
<circle cx="482.04" cy="205.48" r="1.1" fill="#111"/>
<circle cx="488.43" cy="205.48" r="1.1" fill="#111"/>
<circle cx="494.82" cy="205.28" r="1.1" fill="#111"/>
<circle cx="501.21" cy="216.94" r="1.1" fill="#111"/>
<circle cx="507.6" cy="205.48" r="1.1" fill="#111"/>
<circle cx="513.99" cy="205.28" r="1.1" fill="#111"/>
<circle cx="520.38" cy="216.94" r="1.1" fill="#111"/>
<circle cx="526.77" cy="205.48" r="1.1" fill="#111"/>
<circle cx="533.16" cy="216.94" r="1.1" fill="#111"/>
<circle cx="322.29" cy="257.62" r="1.3" fill="#1f77b4"/>
<circle cx="328.68" cy="260.02" r="1.3" fill="#1f77b4"/>
<circle cx="335.07" cy="262.69" r="1.3" fill="#1f77b4"/>
<circle cx="341.46" cy="262.69" r="1.3" fill="#1f77b4"/>
<circle cx="347.85" cy="258.37" r="1.3" fill="#1f77b4"/>
<circle cx="354.24" cy="258.78" r="1.3" fill="#1f77b4"/>
<circle cx="360.63" cy="258.1" r="1.3" fill="#1f77b4"/>
<circle cx="367.02" cy="262.42" r="1.3" fill="#1f77b4"/>
<circle cx="373.41" cy="250.55" r="1.3" fill="#1f77b4"/>
<circle cx="379.8" cy="255.83" r="1.3" fill="#1f77b4"/>
<circle cx="386.19" cy="260.36" r="1.3" fill="#1f77b4"/>
<circle cx="392.58" cy="260.84" r="1.3" fill="#1f77b4"/>
<circle cx="398.97" cy="260.7" r="1.3" fill="#1f77b4"/>
<circle cx="405.36" cy="259.2" r="1.3" fill="#1f77b4"/>
<circle cx="411.75" cy="260.43" r="1.3" fill="#1f77b4"/>
<circle cx="418.14" cy="258.24" r="1.3" fill="#1f77b4"/>
<circle cx="424.53" cy="261.53" r="1.3" fill="#1f77b4"/>
<circle cx="430.92" cy="258.65" r="1.3" fill="#1f77b4"/>
<circle cx="437.31" cy="261.12" r="1.3" fill="#1f77b4"/>
<circle cx="443.7" cy="257.48" r="1.3" fill="#1f77b4"/>
<circle cx="450.09" cy="262.49" r="1.3" fill="#1f77b4"/>
<circle cx="456.48" cy="262.28" r="1.3" fill="#1f77b4"/>
<circle cx="462.87" cy="259.88" r="1.3" fill="#1f77b4"/>
<circle cx="469.26" cy="258.58" r="1.3" fill="#1f77b4"/>
<circle cx="475.65" cy="262.83" r="1.3" fill="#1f77b4"/>
<circle cx="482.04" cy="258.24" r="1.3" fill="#1f77b4"/>
<circle cx="488.43" cy="260.16" r="1.3" fill="#1f77b4"/>
<circle cx="494.82" cy="262.28" r="1.3" fill="#1f77b4"/>
<circle cx="501.21" cy="259.88" r="1.3" fill="#1f77b4"/>
<circle cx="507.6" cy="260.16" r="1.3" fill="#1f77b4"/>
<circle cx="513.99" cy="262.28" r="1.3" fill="#1f77b4"/>
<circle cx="520.38" cy="259.33" r="1.3" fill="#1f77b4"/>
<circle cx="526.77" cy="258.92" r="1.3" fill="#1f77b4"/>
<circle cx="533.16" cy="261.8" r="1.3" fill="#1f77b4"/>
<rect x="299" y="159" width="239" height="18" rx="2" fill="none" stroke="#eeeeee" stroke-width="0.8"/>
<line x1="303.6" y1="167.5" x2="325.6" y2="167.5" stroke="#ff1a1a" stroke-width="0.8"/>
<circle cx="314.4" cy="167.4" r="1.35" fill="#ee0000"/>
<text x="0" y="0" transform="translate(335,171.6) scale(1,1.1)" font-family="'Liberation Serif', serif" font-size="11.4" text-anchor="start" fill="#1a1a1a" stroke="#1a1a1a" stroke-width="0.25">prediction</text>
<line x1="401" y1="167.5" x2="423" y2="167.5" stroke="#777" stroke-width="0.6" stroke-dasharray="1.2,1"/>
<circle cx="412.4" cy="167.4" r="1.15" fill="#111"/>
<text x="0" y="0" transform="translate(432.4,171.6) scale(1,1.1)" font-family="'Liberation Serif', serif" font-size="11.4" text-anchor="start" fill="#1a1a1a" stroke="#1a1a1a" stroke-width="0.25">actual</text>
<circle cx="492.4" cy="167.4" r="1.0" fill="#1f77b4"/>
<text x="0" y="0" transform="translate(512.4,171.6) scale(1,1.1)" font-family="'Liberation Serif', serif" font-size="11.4" text-anchor="start" fill="#1a1a1a" stroke="#1a1a1a" stroke-width="0.25">error</text>
</svg>
</body></html>
